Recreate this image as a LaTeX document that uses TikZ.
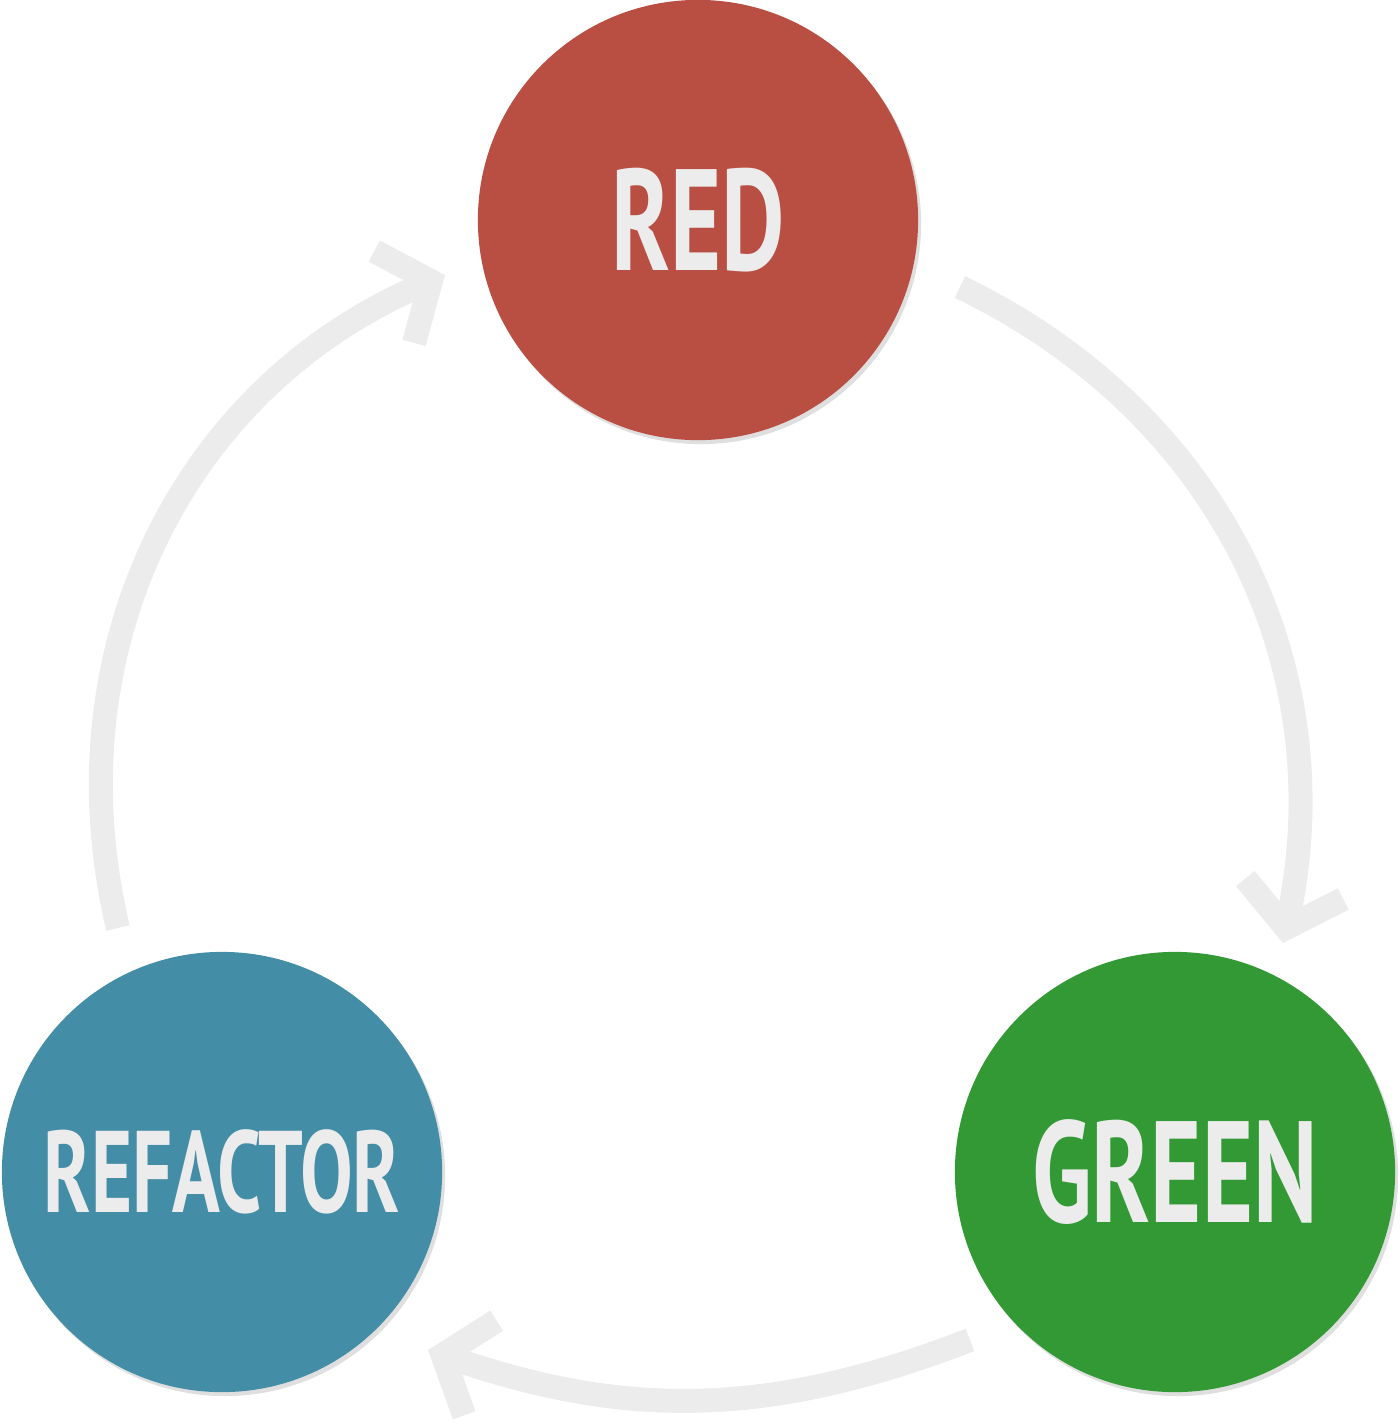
\documentclass[tikz,border=0pt]{standalone}
\usepackage{fontspec}
\setmainfont{PT Sans}
\usetikzlibrary{arrows.meta,shadows}
\definecolor{tddred}{RGB}{185,79,67}
\definecolor{tddgreen}{RGB}{51,153,53}
\definecolor{tddblue}{RGB}{68,141,166}
\definecolor{tddgray}{RGB}{236,236,236}
\tikzset{
  phase/.style={circle, minimum size=4.4cm, inner sep=0pt, text=tddgray,
    font=\bfseries,
    drop shadow={opacity=0.25, shadow xshift=0.03cm, shadow yshift=-0.04cm}},
  cycle/.style={draw=tddgray, line width=0.24cm, -{Straight Barb[length=0.4cm, width=1.0cm]}}
}
\begin{document}
\begin{tikzpicture}[x=0.01cm, y=-0.01cm]
  \useasboundingbox (0,0) rectangle (1400,1426);
  % phases
  \node[phase, fill=tddred] (red) at (698,220)
    {\fontsize{41}{41}\selectfont\scalebox{0.68}[1]{RED}};
  \node[phase, fill=tddgreen] (green) at (1175,1172)
    {\fontsize{41}{41}\selectfont\scalebox{0.68}[1]{GREEN}};
  \node[phase, fill=tddblue] (refactor) at (222,1172)
    {\fontsize{33}{33}\selectfont\scalebox{0.68}[1]{REFACTOR}};
  % arrow ends
  \coordinate (redout) at (960,287);
  \coordinate (greenin) at (1283,943);
  \coordinate (greenout) at (970,1340);
  \coordinate (refin) at (428,1350);
  \coordinate (refout) at (118,928);
  \coordinate (redin) at (445,275);
  % cycle
  \draw[cycle] (redout) to[bend left=38] (greenin);
  \draw[cycle] (greenout) to[bend left=20] (refin);
  \draw[cycle] (refout) to[bend left=40] (redin);
\end{tikzpicture}
\end{document}
